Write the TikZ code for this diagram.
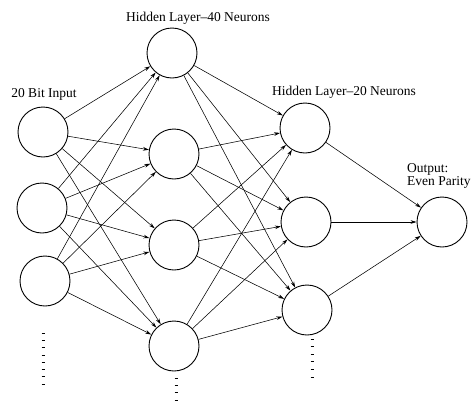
\documentclass[tikz,border=0pt]{standalone}
\usepackage{fontspec}
\setmainfont{Liberation Serif}
\usetikzlibrary{arrows.meta,positioning}

\tikzset{
neuron/.style={draw,circle,line width=0.9pt,minimum size=50pt,inner sep=0pt},
conn/.style={line width=0.55pt,-{Stealth[length=6pt,width=3.6pt]}},
label/.style={font=\fontsize{13.5}{14.5}\selectfont,inner sep=0pt}
}

\begin{document}
\begin{tikzpicture}[x=1pt,y=-1pt]
\useasboundingbox (0,0) rectangle (474,402);
% input layer
\node[neuron] (in1) at (43,132) {};
\node[neuron] (in2) at (42,208) {};
\node[neuron] (in3) at (45,281) {};
% first hidden layer
\node[neuron] (ha1) at (172,53) {};
\node[neuron] (ha2) at (174,154) {};
\node[neuron] (ha3) at (174,245) {};
\node[neuron] (ha4) at (174,346) {};
% second hidden layer
\node[neuron] (hb1) at (305,128) {};
\node[neuron] (hb2) at (306,222) {};
\node[neuron] (hb3) at (307,310) {};
% output
\node[neuron] (out) at (442,222) {};

\foreach \i in {1,2,3}
  \foreach \j in {1,2,3,4}
    \draw[conn] (in\i) -- (ha\j);
\foreach \i in {1,2,3,4}
  \foreach \j in {1,2,3}
    \draw[conn] (ha\i) -- (hb\j);
\foreach \i in {1,2,3}
  \draw[conn] (hb\i) -- (out);

% labels
\node[label] (tin) at (44,94) {20 Bit Input};
\node[label] (tha) at (198,18) {Hidden Layer--40 Neurons};
\node[label] (thb) at (344,92) {Hidden Layer--20 Neurons};
\node[label,anchor=west,align=left] (tout) at (407,176) {Output:\\[-2pt]Even Parity};

% more neurons
\foreach \k in {0,...,7}
  \draw[line width=0.8pt] (41.5,333+7.3*\k) -- ++(3,0);
\foreach \k in {0,...,3}
  \draw[line width=0.8pt] (174.5,378+7.3*\k) -- ++(3,0);
\foreach \k in {0,...,5}
  \draw[line width=0.8pt] (310.5,339+7.6*\k) -- ++(3,0);
\end{tikzpicture}
\end{document}
